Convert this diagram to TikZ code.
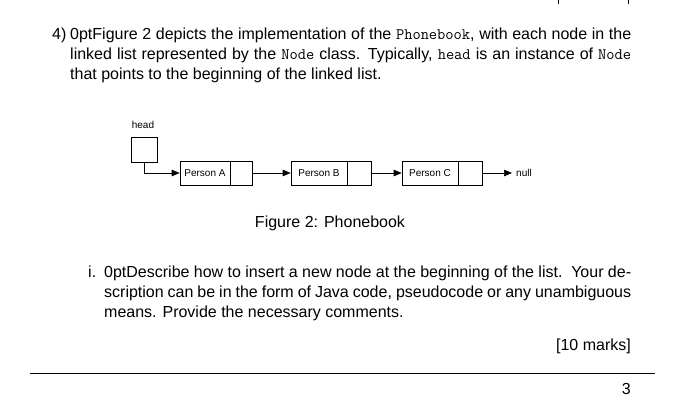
\documentclass[tikz,border=0pt]{standalone}
\usepackage{fontspec}
\setmainfont{Liberation Sans}
\setmonofont{Latin Modern Mono}
\usetikzlibrary{arrows.meta}
\newcommand{\mytt}[1]{{\ttfamily\fontsize{16}{19.5}\selectfont #1}}
\begin{document}
\begin{tikzpicture}[x=1pt,y=-1pt,
  para/.style={anchor=north west,inner sep=0pt,align=justify,font=\fontsize{16}{19.8}\selectfont\hyphenpenalty=10000\exhyphenpenalty=10000},
  lab/.style={anchor=north west,inner sep=0pt,font=\fontsize{16}{19.8}\selectfont},
  cell/.style={draw,line width=0.6pt,minimum height=24pt,inner sep=0pt,font=\fontsize{10}{12}\selectfont},
  link/.style={-{Triangle[length=8pt,width=6.5pt]},line width=0.6pt},
  small/.style={font=\fontsize{10}{12}\selectfont,inner sep=0pt}]
\useasboundingbox (0,0) rectangle (685,411);
\draw[line width=0.8pt] (558,0) -- (558,4) (628,0)--(628,4);
\node[lab] (n4) at (52,28) {4)};
\node[para,text width=561pt] (q4) at (70,28) {Figure 2 depicts the implementation of the \mytt{Phonebook}, with each node in the linked list represented by the \mytt{Node} class. Typically, \mytt{head} is an instance of \mytt{Node} that points to the beginning of the linked list.};
\node[small] (hl) at (143,125) {head};
\node[draw,line width=0.6pt,minimum width=26pt,minimum height=25pt,inner sep=0pt] (head) at (144,149.5) {};
\node[cell,minimum width=50pt] (a) at (205,173) {Person A};
\node[cell,minimum width=22pt,anchor=west] (ap) at (a.east) {};
\node[cell,minimum width=56pt] (b) at (319,173) {Person B};
\node[cell,minimum width=24pt,anchor=west] (bp) at (b.east) {};
\node[cell,minimum width=56pt] (c) at (430,173) {Person C};
\node[cell,minimum width=24pt,anchor=west] (cp) at (c.east) {};
\node[small,anchor=west] (null) at (516,173) {null};
\draw[link] (head.south) |- (a.west);
\draw[link] (ap.east) -- (b.west);
\draw[link] (bp.east) -- (c.west);
\draw[link] (cp.east) -- ([xshift=-4pt]null.west);
\node[font=\fontsize{16}{19}\selectfont,inner sep=0pt] (cap) at (330,223) {Figure 2: Phonebook};
\node[lab] (ni) at (88,266) {i.};
\node[para,text width=527pt] (qi) at (104,266) {Describe how to insert a new node at the beginning of the list.\ \ Your description can be in the form of Java code, pseudocode or any unambiguous means. Provide the necessary comments.};
\node[font=\fontsize{16}{19}\selectfont,inner sep=0pt,anchor=east] (marks) at (631,346) {[10 marks]};
\draw[line width=0.6pt] (30,373) -- (655,373);
\node[font=\fontsize{16}{19}\selectfont,inner sep=0pt,anchor=east] (pg) at (631,389) {3};
\end{tikzpicture}
\end{document}
